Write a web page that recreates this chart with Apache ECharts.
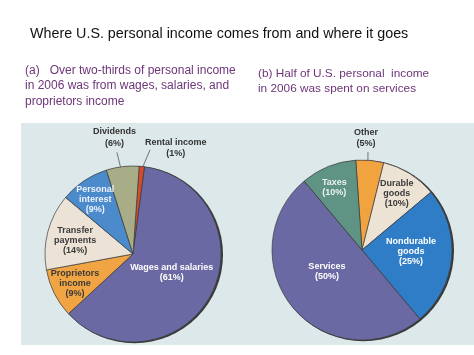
<!DOCTYPE html>
<html>
<head>
<meta charset="utf-8">
<script src="https://cdn.jsdelivr.net/npm/echarts@6/dist/echarts.min.js"></script>
<style>html,body{margin:0;padding:0;background:#fff}#c{width:474px;height:355px}</style>
</head>
<body>
<div id="c"></div>
<script>
// ---- data ----
const incomeNames = ['Rental income', 'Wages and salaries', 'Proprietors income', 'Transfer payments', 'Personal interest', 'Dividends'];
const incomeShares = [1, 61, 9, 14, 9, 6];
const incomeLabels = ['Rental income\n(1%)', 'Wages and salaries\n(61%)', 'Proprietors\nincome\n(9%)', 'Transfer\npayments\n(14%)', 'Personal\ninterest\n(9%)', 'Dividends\n(6%)'];

const spendNames = ['Other', 'Durable goods', 'Nondurable goods', 'Services', 'Taxes'];
const spendShares = [5, 10, 25, 50, 10];
const spendLabels = ['Other\n(5%)', 'Durable\ngoods\n(10%)', 'Nondurable\ngoods\n(25%)', 'Services\n(50%)', 'Taxes\n(10%)'];

const titleText = 'Where U.S. personal income comes from and where it goes';
const captionA = '(a)   Over two-thirds of personal income\nin 2006 was from wages, salaries, and\nproprietors income';
const captionB = '(b) Half of U.S. personal  income\nin 2006 was spent on services';

// ---- styles ----
const incomeColors = ['#d64a2c', '#6b69a3', '#f0a443', '#ece2d6', '#4b8bcb', '#a9ad87'];
const incomeText = ['#333', '#fff', '#3a3a3a', '#3a3a3a', '#eef2fa', '#333'];
const spendColors = ['#f1a340', '#ede3d5', '#2e7dc6', '#6b69a3', '#5f9484'];
const spendText = ['#333', '#3a3a3a', '#fff', '#fff', '#eaf2ef'];

// label placement in polar terms relative to each pie: k = radius fraction, a = degrees clockwise from 12 o'clock
const incomeLabelK = [1.30, 0.49, 0.74, 0.675, 0.75, 1.34];
const incomeLabelA = [22, 116, 243, 283, 325, 351];
const incomeLines = {0: [[1.0, 6.5], [1.2, 9.3]], 5: [[0.965, 352], [1.17, 351]]};
const spendLabelK = [1.245, 0.74, 0.545, 0.46, 0.755];
const spendLabelA = [2, 31.5, 92, 238, 336];
const spendLines = {0: [[0.92, 4], [1.09, 3.5]]};

const leftPie = {cx: 133, cy: 254, r: 88, start: 86};
const rightPie = {cx: 362, cy: 250, r: 90, start: 94};

const FONT = 'Liberation Sans';

function polar(p, k, a) {
  const t = a * Math.PI / 180;
  return [p.cx + k * p.r * Math.sin(t), p.cy - k * p.r * Math.cos(t)];
}

function makeLayout(p, ks, as, lines) {
  return function (params) {
    const i = params.dataIndex;
    const pt = polar(p, ks[i], as[i]);
    const out = {x: pt[0], y: pt[1], align: 'center', verticalAlign: 'middle', hideOverlap: false, moveOverlap: false};
    if (lines[i]) {
      const a = polar(p, lines[i][0][0], lines[i][0][1]);
      const b = polar(p, lines[i][1][0], lines[i][1][1]);
      out.labelLinePoints = [a, [(a[0] + b[0]) / 2, (a[1] + b[1]) / 2], b];
    }
    return out;
  };
}

function pieSeries(p, names, values, labels, colors, textColors, ks, as, lines) {
  return {
    type: 'pie',
    center: [p.cx, p.cy],
    radius: [0, p.r],
    startAngle: p.start,
    clockwise: true,
    avoidLabelOverlap: false,
    animation: false,
    silent: true,
    z: 3,
    itemStyle: {borderColor: '#3d3d3d', borderWidth: 0.7},
    label: {show: true, position: 'inside', fontFamily: FONT, fontSize: 9, fontWeight: 'bold', lineHeight: 10},
    labelLine: {show: false},
    labelLayout: makeLayout(p, ks, as, lines),
    data: names.map((n, i) => ({
      name: n,
      value: values[i],
      itemStyle: {color: colors[i]},
      label: {
        formatter: labels[i],
        color: textColors[i],
        position: lines[i] ? 'outside' : 'inside',
        lineHeight: lines[i] ? 11.5 : 10
      },
      labelLine: lines[i] ? {show: true, lineStyle: {color: '#555', width: 0.8}} : {show: false}
    }))
  };
}

function rimSeries(p) {
  return {
    type: 'pie',
    center: [p.cx + 1.4, p.cy + 0.6],
    radius: [0, p.r + 0.6],
    silent: true,
    animation: false,
    z: 2,
    label: {show: false},
    labelLine: {show: false},
    itemStyle: {color: '#3a3a3a'},
    data: [{value: 1, name: ''}]
  };
}

const chart = echarts.init(document.getElementById('c'), null, {renderer: 'canvas'});
chart.setOption({
  animation: false,
  graphic: [
    {type: 'rect', z: -10, shape: {x: 21, y: 123, width: 453, height: 222}, style: {fill: '#dce8e9'}},
    {type: 'text', z: 10, style: {x: 30, y: 34, text: titleText, font: '14.3px "' + FONT + '"', fill: '#111', verticalAlign: 'middle'}},
    {type: 'text', z: 10, style: {x: 25, y: 62.5, text: captionA, font: '12px "' + FONT + '"', lineHeight: 15.5, fill: '#6e3579', verticalAlign: 'top'}},
    {type: 'text', z: 10, style: {x: 258, y: 65.5, text: captionB, font: '11.8px "' + FONT + '"', lineHeight: 15.5, fill: '#6e3579', verticalAlign: 'top'}}
  ],
  series: [
    rimSeries(leftPie),
    pieSeries(leftPie, incomeNames, incomeShares, incomeLabels, incomeColors, incomeText, incomeLabelK, incomeLabelA, incomeLines),
    rimSeries(rightPie),
    pieSeries(rightPie, spendNames, spendShares, spendLabels, spendColors, spendText, spendLabelK, spendLabelA, spendLines)
  ]
});
</script>
</body>
</html>
